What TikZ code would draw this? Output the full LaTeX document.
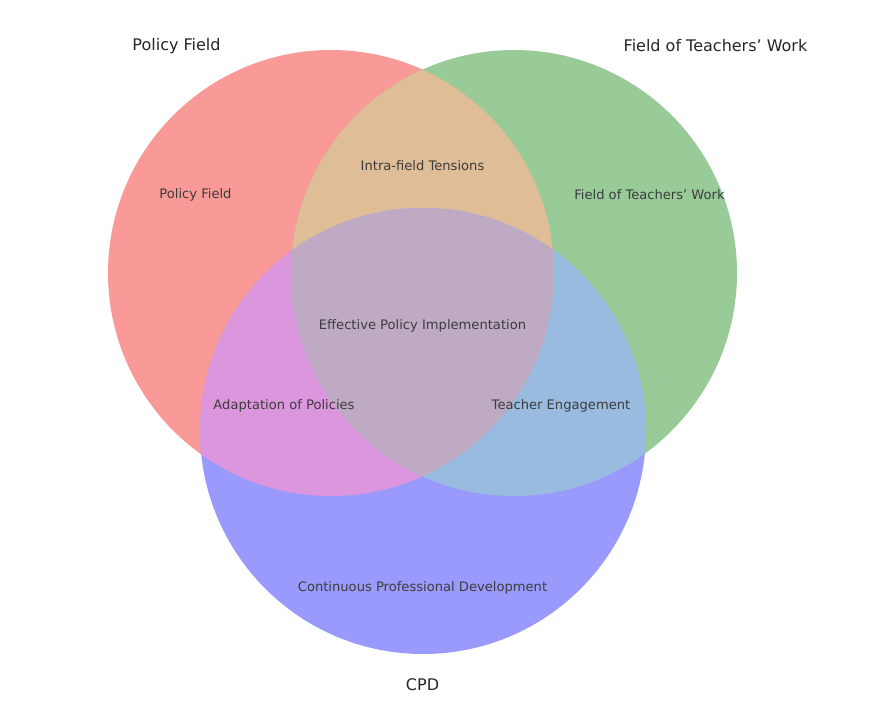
\documentclass[tikz,border=0pt]{standalone}
\usepackage{fontspec}
\setmainfont{DejaVu Sans}
\definecolor{cR}{HTML}{F99A98}
\definecolor{cG}{HTML}{99CB99}
\definecolor{cB}{HTML}{9A9AFD}
\definecolor{cRG}{HTML}{DFBD97}
\definecolor{cRB}{HTML}{DC96DE}
\definecolor{cGB}{HTML}{99BBE0}
\definecolor{cRGB}{HTML}{BEABC3}
\definecolor{txt}{HTML}{262626}
\tikzset{
  settitle/.style={font=\fontsize{16}{19}\selectfont, text=txt},
  region/.style={font=\fontsize{13.1}{15.5}\selectfont, text=txt!90},
}
\begin{document}
\begin{tikzpicture}[x=1pt,y=-1pt]
\useasboundingbox (0,0) rectangle (880,720);
\fill[white] (0,0) rectangle (880,720);
\coordinate (R) at (331,273);
\coordinate (G) at (514,273);
\coordinate (B) at (423,431);
\def\rad{223}
\fill[cR] (R) circle (\rad);
\fill[cG] (G) circle (\rad);
\fill[cB] (B) circle (\rad);
\begin{scope}
  \clip (R) circle (\rad);
  \fill[cRG] (G) circle (\rad);
  \fill[cRB] (B) circle (\rad);
  \clip (G) circle (\rad);
  \fill[cRGB] (B) circle (\rad);
\end{scope}
\begin{scope}
  \clip (G) circle (\rad);
  \clip (B) circle (\rad);
  \fill[cGB] (G) circle (\rad);
  \clip (R) circle (\rad);
  \fill[cRGB] (B) circle (\rad);
\end{scope}
\node[settitle] (tR) at (176.5,46) {Policy Field};
\node[settitle] (tG) at (715.5,46) {Field of Teachers’ Work};
\node[settitle] (tB) at (422.5,685) {CPD};
\node[region] (lR) at (195.5,195) {Policy Field};
\node[region] (lG) at (649.5,195) {Field of Teachers’ Work};
\node[region] (lRG) at (422.5,166) {Intra-field Tensions};
\node[region] (lRGB) at (422.5,326) {Effective Policy Implementation};
\node[region] (lRB) at (284,406) {Adaptation of Policies};
\node[region] (lGB) at (561,406) {Teacher Engagement};
\node[region] (lB) at (422.5,588) {Continuous Professional Development};
\end{tikzpicture}
\end{document}
